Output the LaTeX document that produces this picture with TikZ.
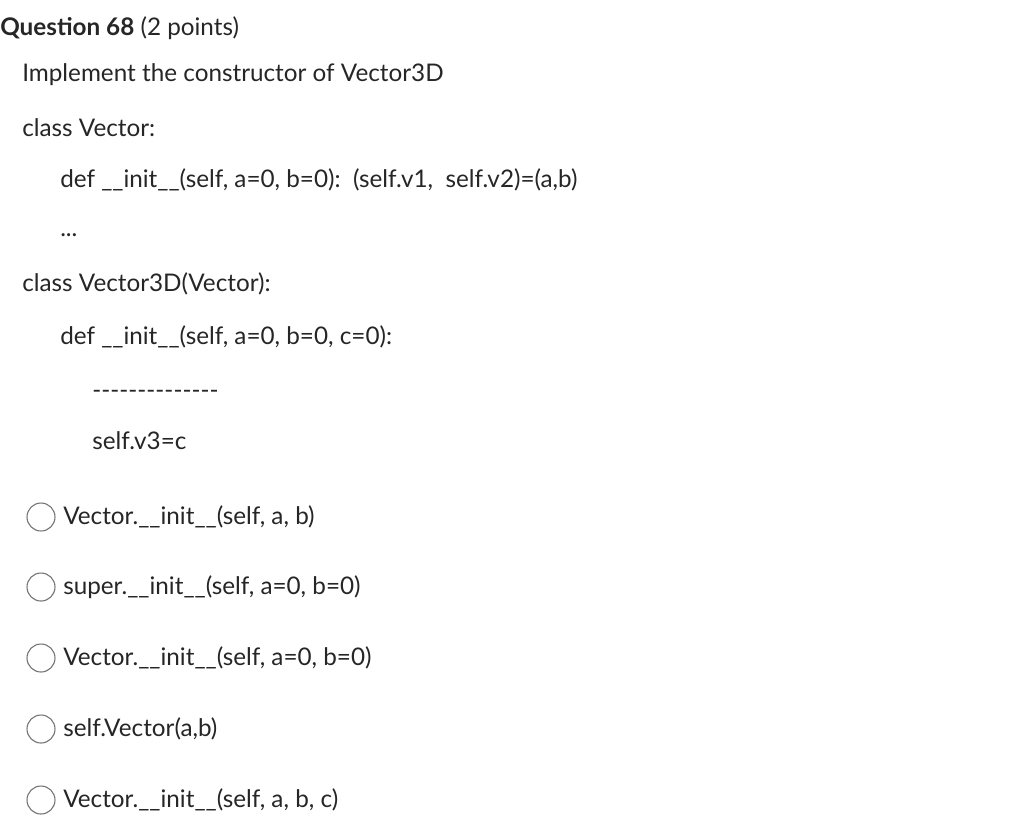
\documentclass[tikz,border=0pt]{standalone}
\usepackage{fontspec}
\setmainfont{Lato}
\begin{document}
\begin{tikzpicture}[x=0.75pt,y=-0.75pt,
  txt/.style={anchor=west,inner sep=0pt,font=\fontsize{18.2}{21}\selectfont,text=black!85},
  radio/.style={circle,draw=black!55,line width=0.8pt,minimum size=21pt,inner sep=0pt}]
\useasboundingbox[fill=white] (0,0) rectangle (1024,819);
\node[txt,font=\fontsize{18.2}{21}\selectfont] (q) at (0,28) {\textbf{Question 68} (2 points)};
\node[txt] (t1) at (22,75) {Implement the constructor of Vector3D};
\node[txt] (t2) at (22,128) {class Vector:};
\node[txt] (t3) at (60,180) {def \_\_init\_\_(self, a=0, b=0):\ \ (self.v1,\ \ self.v2)=(a,b)};
\node[txt] (t4) at (60,235) {...};
\node[txt] (t5) at (22,284) {class Vector3D(Vector):};
\node[txt] (t6) at (60,337) {def \_\_init\_\_(self, a=0, b=0, c=0):};
\node[txt] (t7) at (92,394) {-{}-{}-{}-{}-{}-{}-{}-{}-{}-{}-{}-{}-{}-};
\node[txt] (t8) at (92,441) {self.v3=c};
\foreach \y/\t [count=\i] in {517/{Vector.\_\_init\_\_(self, a, b)},587/{super.\_\_init\_\_(self, a=0, b=0)},658/{Vector.\_\_init\_\_(self, a=0, b=0)},729/{self.Vector(a,b)},800/{Vector.\_\_init\_\_(self, a, b, c)}}{
  \node[radio] (r\i) at (41,\y) {};
  \node[txt] (o\i) at (63,\y) {\t};
}
\end{tikzpicture}
\end{document}
